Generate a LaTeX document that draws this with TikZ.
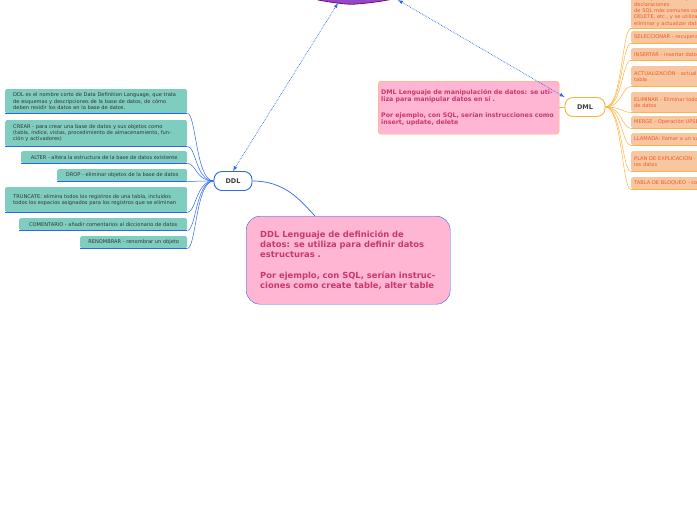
\documentclass[tikz,border=0pt]{standalone}
\usepackage{fontspec}
\setmainfont{DejaVu Sans}
\begin{document}
\begin{tikzpicture}[x=1pt,y=-1pt,
  lbox/.style={fill=lt, rounded corners=1.5pt, anchor=north west, inner xsep=4pt, inner ysep=2pt, font=\fontsize{5.1}{6.2}\selectfont, text=black!80, align=left},
  rbox/.style={fill=rfill, rounded corners=1.5pt, anchor=north west, inner xsep=3pt, inner ysep=2pt, font=\fontsize{5.1}{6.2}\selectfont, text=rtext, align=left, text width=150pt},
  hub/.style={draw, line width=0.9pt, fill=white, rounded corners=8pt, font=\bfseries\fontsize{6.5}{7.5}\selectfont, text=black!75},
  blu/.style={draw=lblue, line width=0.5pt},
  org/.style={draw=rorg, line width=0.7pt}]
\definecolor{lt}{HTML}{7FCDBF}
\definecolor{lblue}{HTML}{2A66F0}
\definecolor{rfill}{HTML}{F8C7A2}
\definecolor{rtext}{HTML}{EE5A24}
\definecolor{rorg}{HTML}{FFB33F}
\definecolor{pk}{HTML}{FFB6D3}
\definecolor{pkt}{HTML}{C8386E}
\definecolor{vio}{HTML}{8E4BC8}
\useasboundingbox (0,0) rectangle (697,520);
\clip (0,0) rectangle (697,520);
% central shape
\fill[vio, draw=violet!80!purple, line width=0.8pt] (318,-20) -- (318,0) .. controls (335,3) and (350,5) .. (356,4) .. controls (370,3) and (385,1) .. (397,-2) -- (397,-20) -- cycle;
\coordinate (c1) at (338,3);
\coordinate (c2) at (398,0);
% DDL
\node[hub, draw=lblue, minimum width=38pt, minimum height=19pt] (ddl) at (233,181) {DDL};
\node[lbox, minimum width=182pt, minimum height=24pt, text width=166pt] (l1) at (5,89) {DDL es el nombre corto de Data Definition Language, que trata de esquemas y descripciones de la base de datos, de cómo deben residir los datos en la base de datos.};
\node[lbox, minimum width=182pt, minimum height=26pt, text width=166pt] (l2) at (5,120) {CREAR - para crear una base de datos y sus objetos como (tabla, índice, vistas, procedimiento de almacenamiento, función y activadores)};
\node[lbox, minimum width=166pt, minimum height=12pt] (l3) at (21,151) {ALTER - altera la estructura de la base de datos existente};
\node[lbox, minimum width=130pt, minimum height=12pt] (l4) at (57,169) {DROP - eliminar objetos de la base de datos};
\node[lbox, minimum width=182pt, minimum height=25pt, text width=166pt] (l5) at (5,187) {TRUNCATE: elimina todos los registros de una tabla, incluidos todos los espacios asignados para los registros que se eliminan};
\node[lbox, minimum width=168pt, minimum height=12pt] (l6) at (19,218) {COMENTARIO - añadir comentarios al diccionario de datos};
\node[lbox, minimum width=107pt, minimum height=12pt] (l7) at (80,236) {RENOMBRAR - renombrar un objeto};
\foreach \n in {l1,l2,l3,l4,l5,l6,l7}{
  \draw[blu] (\n.south west) -- (\n.south east);
  \draw[blu] (ddl.west) .. controls (196,181) and (196,0 |- \n.south east) .. (\n.south east);
}
\node[draw=lblue, fill=pk, rounded corners=14pt, minimum width=204pt, minimum height=88pt, anchor=north west, inner xsep=14pt, text width=176pt, align=left, font=\bfseries\fontsize{8.4}{10.2}\selectfont, text=pkt] (ddlt) at (246,216) {DDL Lenguaje de definición de datos: se utiliza para definir datos estructuras .\\[10.2pt]Por ejemplo, con SQL, serían instrucciones como create table, alter table};
\draw[draw=lblue, line width=0.7pt] (ddl.east) .. controls (285,181) and (300,200) .. (315,0 |- ddlt.north);
% DML
\node[hub, draw=rorg, minimum width=40pt, minimum height=19pt] (dml) at (585,107) {DML};
\node[draw=rorg, fill=pk, rounded corners=3pt, minimum width=181pt, minimum height=53pt, anchor=north west, inner xsep=3pt, text width=175pt, align=left, font=\bfseries\fontsize{6.3}{7.6}\selectfont, text=pkt] (dmlt) at (378,81) {DML Lenguaje de manipulación de datos: se utiliza para manipular datos en sí .\\[7.6pt]Por ejemplo, con SQL, serían instrucciones como insert, update, delete};
\draw[org] (dmlt.east |- dml.west) -- (dml.west);
\node[rbox, minimum height=24pt] (r1) at (631,-6) {se ocupa de la manipulación de datos. Incluye las declaraciones\\de SQL más comunes como SELECT, INSERT, UPDATE,\\DELETE, etc., y se utiliza para almacenar, modificar,\\eliminar y actualizar datos};
\node[rbox, minimum height=12pt] (r2) at (631,31) {SELECCIONAR - recuperar datos de una base de datos};
\node[rbox, minimum height=12pt] (r3) at (631,48) {INSERTAR - insertar datos en una tabla};
\node[rbox, minimum height=20pt] (r4) at (631,66) {ACTUALIZACIÓN - actualiza los datos existentes en una\\tabla};
\node[rbox, minimum height=20pt] (r5) at (631,92) {ELIMINAR - Eliminar todos los registros de una base\\de datos};
\node[rbox, minimum height=12pt] (r6) at (631,116) {MERGE - Operación UPSERT (insertar o actualizar)};
\node[rbox, minimum height=12pt] (r7) at (631,133) {LLAMADA: llamar a un subprograma PL/SQL};
\node[rbox, minimum height=20pt] (r8) at (631,151) {PLAN DE EXPLICACIÓN - ruta de acceso a\\los datos};
\node[rbox, minimum height=12pt] (r9) at (631,177) {TABLA DE BLOQUEO - control de concurrencia};
\foreach \n in {r1,r2,r3,r4,r5,r6,r7,r8,r9}{
  \draw[org] (\n.south west) -- (\n.south east);
  \draw[draw=rorg, line width=0.5pt] (dml.east) .. controls (622,107) and (622,0 |- \n.south west) .. (\n.south west);
}
% dashed links
\draw[lblue, densely dotted, line width=0.7pt, latex-latex] (ddl.north) -- (c1);
\draw[lblue, densely dotted, line width=0.7pt, latex-latex] (dml.north west) -- (c2);
\end{tikzpicture}
\end{document}
